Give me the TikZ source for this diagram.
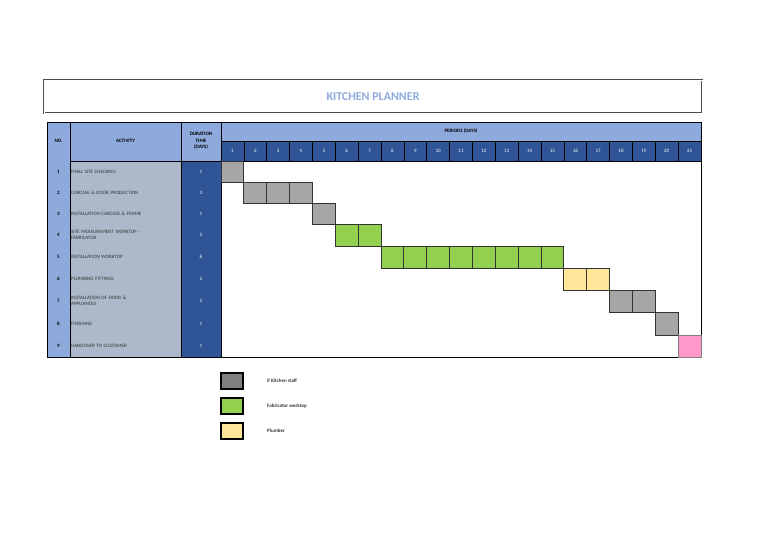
\documentclass[tikz,border=0pt]{standalone}
\usepackage{fontspec}
\setmainfont{Carlito}
\definecolor{lblue}{HTML}{8EA9DB}
\definecolor{dblue}{HTML}{2F5597}
\definecolor{gblue}{HTML}{ACB9CA}
\definecolor{kgray}{HTML}{A6A6A6}
\definecolor{fgreen}{HTML}{92D050}
\definecolor{pyellow}{HTML}{FFE699}
\definecolor{hpink}{HTML}{FF99CC}
\tikzset{
  cell/.style={draw=black,semithick},
  bar/.style={draw=black!80,line width=1pt},
  txt/.style={font=\fontsize{5}{6}\selectfont\bfseries,inner sep=1pt},
  rowtxt/.style={txt,font=\fontsize{5}{6}\selectfont,text=black!80,anchor=west,align=left,text width=105pt}
}
\begin{document}
\begin{tikzpicture}[x=1pt,y=-1pt]
	\useasboundingbox (0,0) rectangle (768,543);
	%title
	\draw[double,double distance=1pt,thick,draw=black!70] (44,80) rectangle (702,113);
	\node[text=lblue,font=\fontsize{12}{14}\selectfont\bfseries] (title) at (373,97) {KITCHEN PLANNER};
	%header
	\filldraw[cell,fill=lblue] (47,122) rectangle (70,357);
	\filldraw[cell,fill=lblue] (70,122) rectangle (181,161);
	\filldraw[cell,fill=gblue] (70,161) rectangle (181,357);
	\filldraw[cell,fill=lblue] (181,122) rectangle (221,161);
	\filldraw[cell,fill=dblue] (181,161) rectangle (221,357);
	\filldraw[cell,fill=lblue] (221,122) rectangle (701,141);
	\draw[cell] (221,161) rectangle (701,357);
	\node[txt] (no) at (58.5,141) {NO.};
	\node[txt] (act) at (125.5,141) {ACTIVITY};
	\node[txt,align=center,font=\fontsize{5}{6.5}\selectfont\bfseries] (dur) at (201,141) {DURATION\\TIME\\(DAYS)};
	\node[txt] (per) at (461,131) {PERIODS (DAYS)};
	\foreach \d in {1,...,21}{
		\filldraw[cell,fill=dblue] ({221+(\d-1)*480/21},141) rectangle ({221+\d*480/21},161);
		\node[txt,text=white,font=\fontsize{5}{6}\selectfont] (d\d) at ({221+(\d-0.5)*480/21},151) {\d};
	}
	%activities
	\foreach \i/\t/\b/\n/\a in {1/161/182/1/FINAL SITE CHECKING,2/182/203/3/CARCASE \& DOOR PRODUCTION,3/203/224/1/INSTALLATION CARCASE \& FRAME,4/224/246/2/SITE MEASUREMENT WORKTOP -\\FABRICATOR,5/246/268/8/INSTALLATION WORKTOP,6/268/290/2/PLUMBING FITTINGS,7/290/312/2/INSTALLATION OF DOOR \&\\APPLIANCES,8/312/335/1/FINISHING,9/335/357/1/HANDOVER TO CUSTOMER}{
		\node[txt] (n\i) at (58.5,{(\t+\b)/2}) {\i};
		\node[rowtxt] (a\i) at (70,{(\t+\b)/2}) {\a};
		\node[txt,text=white,font=\fontsize{5}{6}\selectfont] (t\i) at (201,{(\t+\b)/2}) {\n};
	}
	%bars
	\foreach \d/\t/\b/\c in {1/161/182/kgray,2/182/203/kgray,3/182/203/kgray,4/182/203/kgray,5/203/224/kgray,6/224/246/fgreen,7/224/246/fgreen,8/246/268/fgreen,9/246/268/fgreen,10/246/268/fgreen,11/246/268/fgreen,12/246/268/fgreen,13/246/268/fgreen,14/246/268/fgreen,15/246/268/fgreen,16/268/290/pyellow,17/268/290/pyellow,18/290/312/kgray,19/290/312/kgray,20/312/335/kgray}{
		\filldraw[bar,fill=\c] ({221+(\d-1)*480/21},\t) rectangle ({221+\d*480/21},\b);
	}
	\filldraw[draw=black!50,fill=hpink] ({221+20*480/21},335) rectangle (701,357);
	%legend
	\foreach \y/\c/\l in {373/gray/if Kitchen staff,398/fgreen/Fabricator worktop,423/pyellow/Plumber}{
		\filldraw[draw=black,line width=1.5pt,fill=\c] (221,\y) rectangle (243,\y+16);
		\node[txt,anchor=west,text=black!80] at (266,\y+8) {\l};
	}
\end{tikzpicture}
\end{document}
